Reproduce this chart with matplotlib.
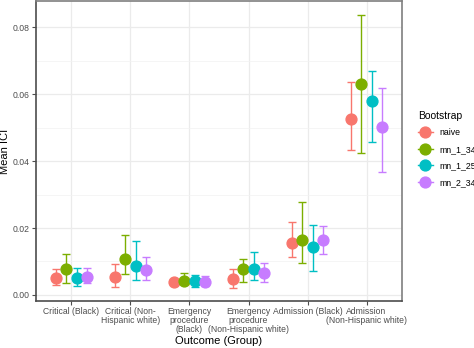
import numpy as np
import matplotlib.pyplot as plt
import matplotlib as mpl
from matplotlib.lines import Line2D

mpl.rcParams['font.family'] = ['Liberation Sans', 'DejaVu Sans']

# Дані
outcomes = ["Critical (Black)", "Critical (Non-\nHispanic white)",
            "Emergency\nprocedure\n(Black)", "Emergency\nprocedure\n(Non-Hispanic white)",
            "Admission (Black)", "Admission\n(Non-Hispanic white)"]
methods = ["naive", "mn_1_34", "mn_1_25", "mn_2_34"]
colors = ["#F8766D", "#7CAE00", "#00BFC4", "#C77CFF"]

naive_mean = [0.0052, 0.0053, 0.0040, 0.0048, 0.0156, 0.0525]
naive_lo = [0.0030, 0.0025, 0.0034, 0.0020, 0.0113, 0.0432]
naive_hi = [0.0077, 0.0093, 0.0045, 0.0078, 0.0217, 0.0637]

mn134_mean = [0.0077, 0.0107, 0.0043, 0.0077, 0.0165, 0.0629]
mn134_lo = [0.0037, 0.0062, 0.0032, 0.0040, 0.0095, 0.0424]
mn134_hi = [0.0121, 0.0179, 0.0067, 0.0108, 0.0279, 0.0836]

mn125_mean = [0.0050, 0.0087, 0.0043, 0.0078, 0.0142, 0.0580]
mn125_lo = [0.0028, 0.0044, 0.0023, 0.0046, 0.0072, 0.0458]
mn125_hi = [0.0080, 0.0161, 0.0060, 0.0128, 0.0209, 0.0669]

mn234_mean = [0.0055, 0.0074, 0.0039, 0.0065, 0.0165, 0.0502]
mn234_lo = [0.0035, 0.0044, 0.0027, 0.0039, 0.0121, 0.0366]
mn234_hi = [0.0082, 0.0113, 0.0057, 0.0095, 0.0207, 0.0617]

means = [naive_mean, mn134_mean, mn125_mean, mn234_mean]
los = [naive_lo, mn134_lo, mn125_lo, mn234_lo]
his = [naive_hi, mn134_hi, mn125_hi, mn234_hi]

fig = plt.figure(figsize=(4.74, 3.48), dpi=100)
ax = fig.add_axes([36/474, 47/348, 366/474, 300/348])

x = np.arange(len(outcomes))
dodge = 0.175
for k in range(len(methods)):
    xs = x + (k - 1.5) * dodge
    m = np.array(means[k])
    lo = m - np.array(los[k])
    hi = np.array(his[k]) - m
    ax.errorbar(xs, m, yerr=[lo, hi], fmt='none', ecolor=colors[k],
                elinewidth=1.0, capsize=2.9, capthick=1.0, zorder=3)
    ax.plot(xs, m, 'o', color=colors[k], markersize=7.8, zorder=4)

ax.set_xlim(-0.6, len(outcomes) - 0.4)
ax.set_ylim(-0.0018, 0.0878)
ax.set_yticks([0, 0.02, 0.04, 0.06, 0.08])
ax.set_yticklabels(["0.00", "0.02", "0.04", "0.06", "0.08"])
ax.set_yticks([0.01, 0.03, 0.05, 0.07], minor=True)
ax.set_xticks(x)
ax.set_xticklabels(outcomes, linespacing=1.0)

ax.grid(True, which='major', color='#EBEBEB', linewidth=0.9, zorder=0)
ax.grid(True, which='minor', axis='y', color='#F2F2F2', linewidth=0.5, zorder=0)
ax.set_axisbelow(True)

for s in ax.spines.values():
    s.set_color('#7F7F7F')
    s.set_linewidth(1.2)
ax.spines['left'].set_color('#4D4D4D')
ax.spines['bottom'].set_color('#4D4D4D')

ax.tick_params(axis='both', which='major', labelsize=6.2, colors='#4D4D4D',
               length=3, width=0.8, pad=1.5)
ax.tick_params(axis='both', which='minor', length=0)

ax.set_xlabel("Outcome (Group)", fontsize=8, labelpad=1)
ax.set_ylabel("Mean ICI", fontsize=8, labelpad=2)

handles = [Line2D([0], [0], color=c, marker='o', markersize=7.8, linewidth=1.0)
           for c in colors]
leg = fig.legend(handles, methods, title="Bootstrap", loc='upper left',
                 bbox_to_anchor=(418/474, 1 - 111/348), frameon=False,
                 fontsize=6.3, title_fontsize=7.5, handlelength=1.7,
                 labelspacing=0.85, handletextpad=0.75, borderpad=0,
                 borderaxespad=0)
leg._legend_box.align = "left"

plt.savefig("out.png", dpi=100)
